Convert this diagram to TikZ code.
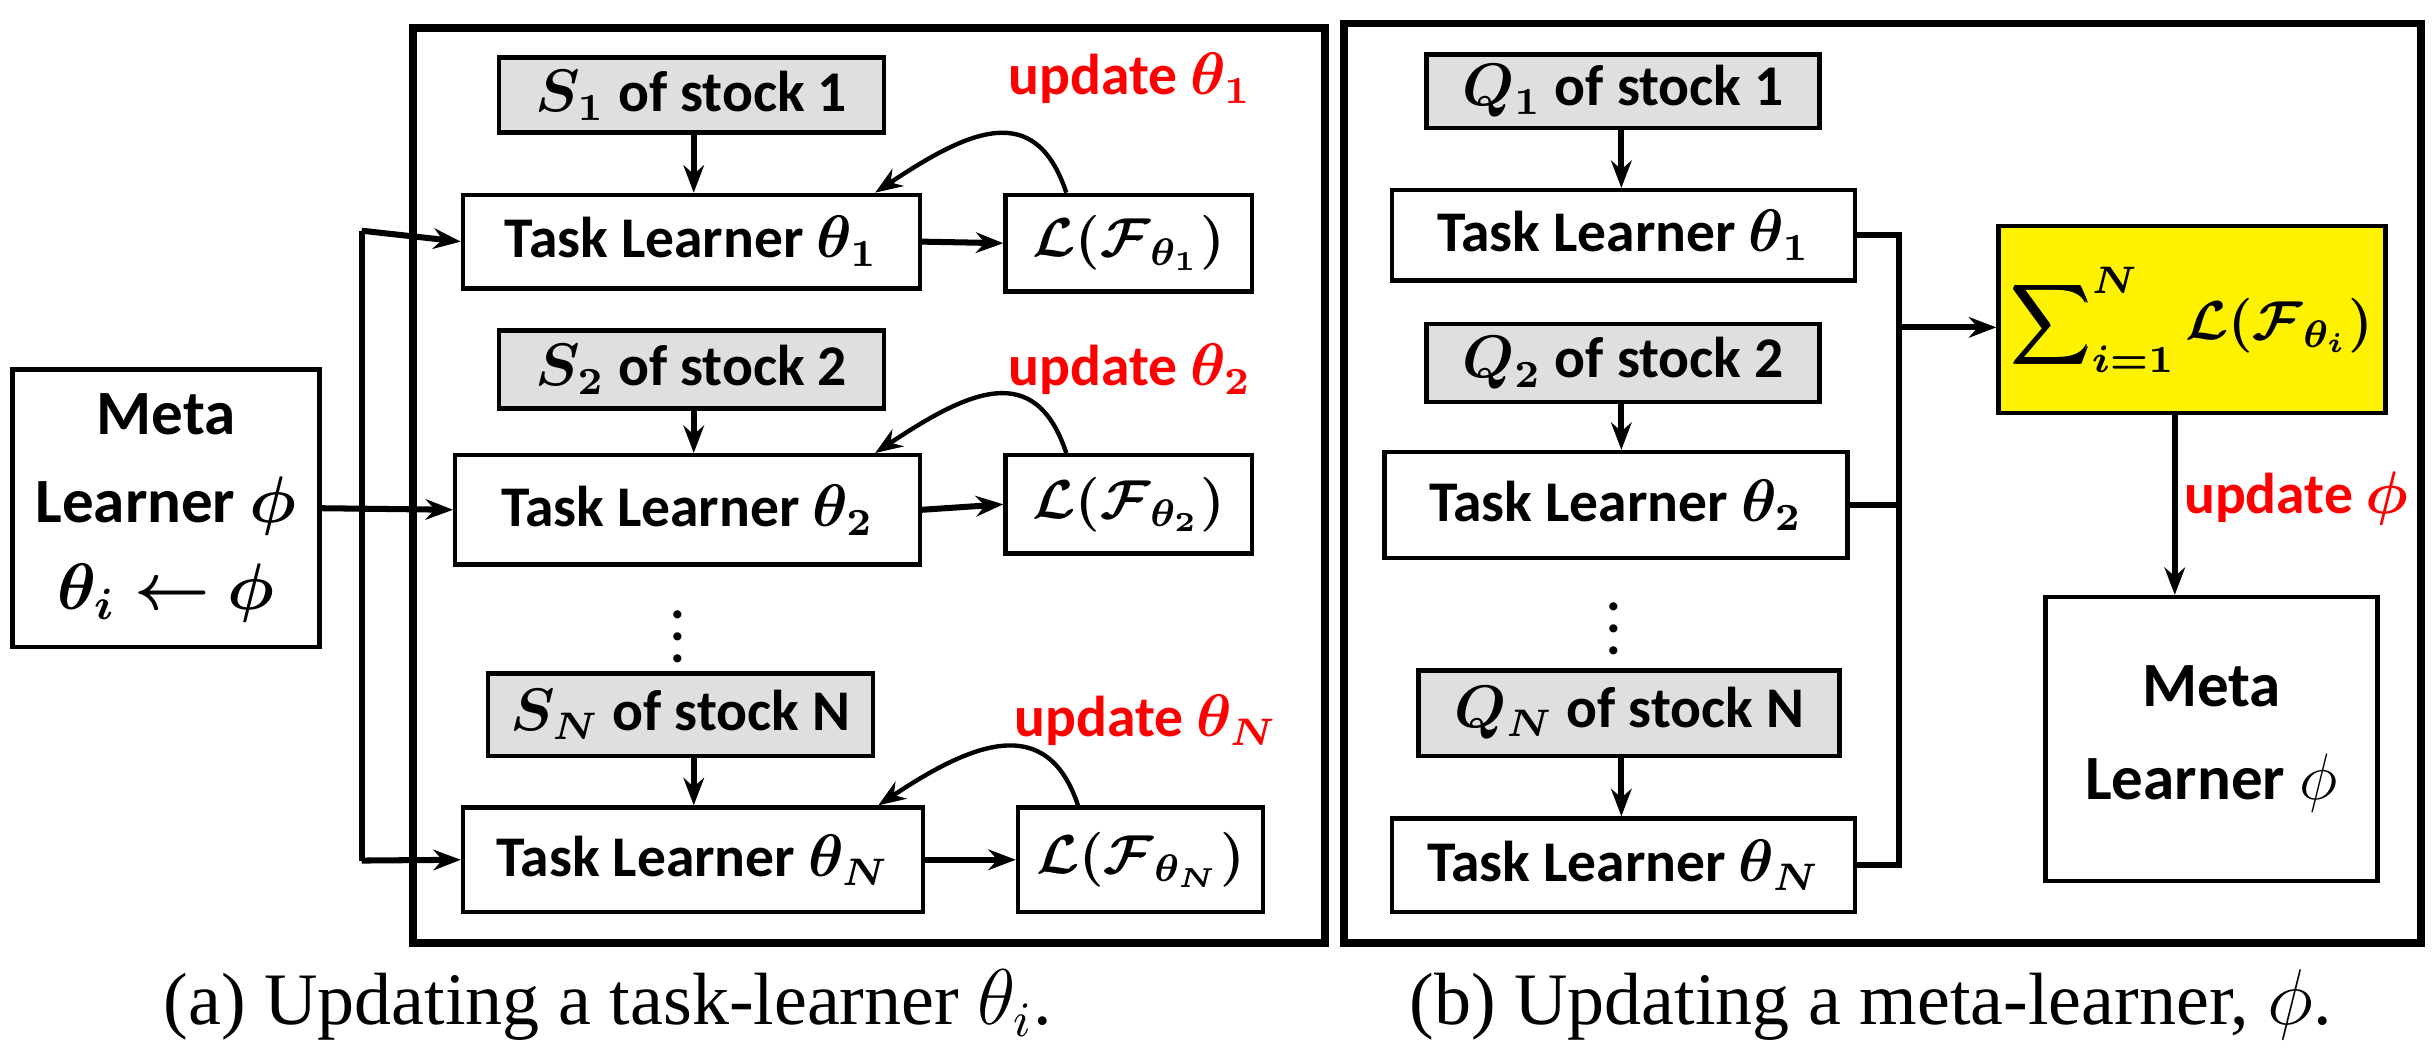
\documentclass[tikz,border=0pt]{standalone}
\usepackage{amsmath,bm}
\usepackage{fontspec}
\setmainfont{Carlito}
\newfontfamily\capfont{Liberation Serif}
\usetikzlibrary{arrows.meta}
\begin{document}
\begin{tikzpicture}[x=0.01cm,y=-0.01cm,
 box/.style={draw,line width=0.8pt,inner sep=0pt,font=\bfseries\fontsize{10.5}{12}\selectfont},
 gbox/.style={box,fill=gray!25},
 frame/.style={draw,line width=1.4pt},
 arr/.style={-{Stealth[length=5pt]},line width=1.1pt},
 upd/.style={text=red,font=\bfseries\fontsize{10.5}{12}\selectfont},
 dots/.style={inner sep=0pt,font=\normalsize},
 captxt/.style={font=\capfont\fontsize{13.5}{15}\selectfont}]
\useasboundingbox (0,0) rectangle (1560,676);
\newcommand{\bx}[6]{\node[#1,minimum width={(#4-#3)*0.01cm},minimum height={(#6-#5)*0.01cm}] (#2) at ({(#3+#4)/2},{(#5+#6)/2}) {};}
\path (445,0) coordinate (xa) (1040,0) coordinate (xb) (1395,0) coordinate (xc) (1218,0) coordinate (xd);
% panel a
\draw[frame] (265,18) rectangle (850,605);
\bx{box}{meta}{8}{205}{237}{415}
\node[align=center,font=\bfseries\fontsize{11.5}{13}\selectfont] at (meta) {Meta\\[3pt]Learner $\bm{\phi}$\\[3pt]$\bm{\theta_i\leftarrow\phi}$};
\bx{gbox}{s1}{320}{567}{37}{85}\node at (s1) {\bfseries\fontsize{10.5}{12}\selectfont $\bm{S_1}$ of stock 1};
\bx{box}{t1}{297}{590}{125}{185}\node at (t1) {\bfseries\fontsize{10.5}{12}\selectfont Task Learner $\bm{\theta_1}$};
\bx{box}{l1}{645}{803}{125}{187}\node at (l1) {$\bm{\mathcal{L}(\mathcal{F}_{\theta_1})}$};
\node[upd] (u1) at (725,50) {update $\bm{\theta_1}$};
\bx{gbox}{s2}{320}{567}{212}{262}\node at (s2) {\bfseries\fontsize{10.5}{12}\selectfont $\bm{S_2}$ of stock 2};
\bx{box}{t2}{292}{590}{292}{362}\node at (t2) {\bfseries\fontsize{10.5}{12}\selectfont Task Learner $\bm{\theta_2}$};
\bx{box}{l2}{645}{803}{292}{355}\node at (l2) {$\bm{\mathcal{L}(\mathcal{F}_{\theta_2})}$};
\node[upd] (u2) at (725,237) {update $\bm{\theta_2}$};
\node[dots] (da) at (435,398) {$\bm{\vdots}$};
\bx{gbox}{sn}{313}{560}{432}{485}\node at (sn) {\bfseries\fontsize{10.5}{12}\selectfont $\bm{S_N}$ of stock N};
\bx{box}{tn}{297}{592}{518}{585}\node at (tn) {\bfseries\fontsize{10.5}{12}\selectfont Task Learner $\bm{\theta_N}$};
\bx{box}{ln}{653}{810}{518}{585}\node at (ln) {$\bm{\mathcal{L}(\mathcal{F}_{\theta_N})}$};
\node[upd] (un) at (735,462) {update $\bm{\theta_N}$};
\foreach \s/\t/\l in {s1/t1/l1,s2/t2/l2,sn/tn/ln}{
 \draw[arr] (\s.south -| xa) -- (\t.north -| xa);
 \draw[arr] (\t.east) -- (\l.west);
 \draw[arr,line width=0.8pt] ([xshift=-0.4cm]\l.north) .. controls +(-20,-60) and +(60,-40) .. ([xshift=-0.3cm]\t.north east);
}
\draw[arr] (meta.east) -- (t2.west);
\coordinate (v1) at (232,148); \coordinate (vn) at (232,552);
\draw[line width=1.1pt] (v1) -- (vn);
\draw[arr] (v1) -- (t1.west);
\draw[arr] (vn) -- (tn.west);
% panel b
\draw[frame] (862,15) rectangle (1553,605);
\bx{gbox}{q1}{915}{1167}{35}{82}\node at (q1) {\bfseries\fontsize{10.5}{12}\selectfont $\bm{Q_1}$ of stock 1};
\bx{box}{b1}{893}{1190}{122}{180}\node at (b1) {\bfseries\fontsize{10.5}{12}\selectfont Task Learner $\bm{\theta_1}$};
\bx{gbox}{q2}{915}{1167}{208}{258}\node at (q2) {\bfseries\fontsize{10.5}{12}\selectfont $\bm{Q_2}$ of stock 2};
\bx{box}{b2}{888}{1185}{290}{358}\node at (b2) {\bfseries\fontsize{10.5}{12}\selectfont Task Learner $\bm{\theta_2}$};
\node[dots] (db) at (1035,393) {$\bm{\vdots}$};
\bx{gbox}{qn}{910}{1180}{430}{485}\node at (qn) {\bfseries\fontsize{10.5}{12}\selectfont $\bm{Q_N}$ of stock N};
\bx{box}{bn}{893}{1190}{525}{585}\node at (bn) {\bfseries\fontsize{10.5}{12}\selectfont Task Learner $\bm{\theta_N}$};
\foreach \q/\b in {q1/b1,q2/b2,qn/bn}{\draw[arr] (\q.south -| xb) -- (\b.north -| xb);}
\draw[line width=1.1pt] (b1.east) -- (b1.east -| xd) -- (bn.east -| xd) -- (bn.east);
\draw[line width=1.1pt] (b2.east) -- (b2.east -| xd);
\bx{box}{sum}{1282}{1530}{145}{265}
\node[fill=yellow,draw,line width=0.8pt,minimum width=2.48cm,minimum height=1.2cm] (sumf) at (sum) {};
\node at (sumf) {\fontsize{10}{12}\selectfont$\displaystyle\bm{\sum\nolimits_{i=1}^{N}\mathcal{L}(\mathcal{F}_{\theta_i})}$};
\coordinate (sj) at (1218,210);
\draw[arr] (sj) -- (sj -| sumf.west);
\bx{box}{mb}{1312}{1525}{383}{565}
\node[align=center,font=\bfseries\fontsize{11.5}{13}\selectfont] at (mb) {Meta\\[4pt]Learner $\phi$};
\draw[arr] (sumf.south -| xc) -- (mb.north -| xc);
\node[upd] (up) at (1473,320) {update $\bm{\phi}$};
% captions
\node[captxt] (ca) at (390,645) {(a) Updating a task-learner $\theta_i$.};
\node[captxt] (cb) at (1200,645) {(b) Updating a meta-learner, $\phi$.};
\end{tikzpicture}
\end{document}
